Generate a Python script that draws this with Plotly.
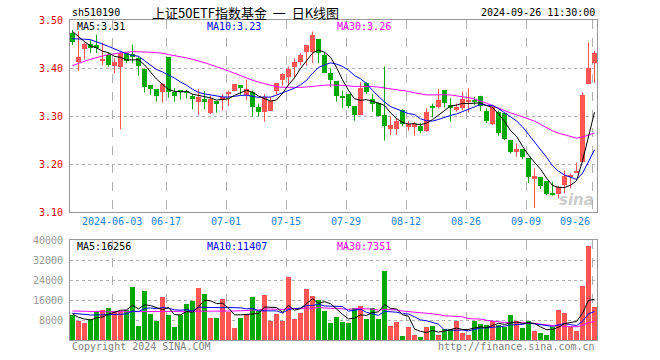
import plotly.graph_objects as go

# ---------------- data ----------------
tick_idx = [7, 16, 26, 36, 46, 56, 66, 76, 87]
tick_labels = ["2024-06-03", "06-17", "07-01", "07-15", "07-29", "08-12", "08-26", "09-09", "09-26"]

opens = [3.472, 3.413, 3.440, 3.451, 3.447, 3.415, 3.428, 3.404, 3.403, 3.431,
         3.429, 3.420, 3.397, 3.365, 3.356, 3.351, 3.422, 3.351, 3.353, 3.352,
         3.342, 3.330, 3.335, 3.307, 3.331, 3.333, 3.347, 3.353, 3.364, 3.344,
         3.351, 3.318, 3.309, 3.311, 3.353, 3.375, 3.382, 3.403, 3.413, 3.433,
         3.433, 3.460, 3.428, 3.390, 3.373, 3.342, 3.346, 3.321, 3.302, 3.368,
         3.335, 3.328, 3.302, 3.272, 3.273, 3.313, 3.279, 3.278, 3.279, 3.269,
         3.321, 3.319, 3.354, 3.323, 3.312, 3.316, 3.331, 3.333, 3.342, 3.311,
         3.283, 3.309, 3.306, 3.249, 3.226, 3.231, 3.213, 3.168, 3.172, 3.165,
         3.138, 3.137, 3.156, 3.174, 3.182, 3.205, 3.367, 3.411]
highs = [3.479, 3.476, 3.453, 3.458, 3.469, 3.453, 3.433, 3.420, 3.433, 3.432,
         3.448, 3.424, 3.399, 3.365, 3.356, 3.369, 3.422, 3.358, 3.354, 3.354,
         3.346, 3.356, 3.352, 3.342, 3.331, 3.346, 3.353, 3.366, 3.365, 3.376,
         3.353, 3.326, 3.346, 3.340, 3.368, 3.389, 3.403, 3.420, 3.431, 3.447,
         3.476, 3.460, 3.433, 3.398, 3.373, 3.353, 3.346, 3.321, 3.370, 3.370,
         3.346, 3.328, 3.403, 3.299, 3.295, 3.314, 3.290, 3.288, 3.285, 3.316,
         3.326, 3.356, 3.354, 3.337, 3.326, 3.351, 3.358, 3.340, 3.342, 3.316,
         3.323, 3.311, 3.306, 3.249, 3.243, 3.231, 3.213, 3.191, 3.172, 3.165,
         3.163, 3.154, 3.187, 3.180, 3.203, 3.349, 3.453, 3.436]
lows = [3.448, 3.394, 3.418, 3.431, 3.431, 3.406, 3.403, 3.389, 3.272, 3.410,
        3.410, 3.384, 3.349, 3.344, 3.330, 3.328, 3.338, 3.330, 3.335, 3.337,
        3.314, 3.302, 3.314, 3.304, 3.307, 3.311, 3.321, 3.353, 3.344, 3.333,
        3.299, 3.299, 3.288, 3.311, 3.344, 3.363, 3.363, 3.381, 3.406, 3.405,
        3.410, 3.410, 3.389, 3.361, 3.330, 3.317, 3.316, 3.290, 3.302, 3.346,
        3.309, 3.299, 3.249, 3.260, 3.260, 3.279, 3.269, 3.259, 3.264, 3.267,
        3.297, 3.316, 3.318, 3.288, 3.309, 3.312, 3.307, 3.323, 3.310, 3.285,
        3.281, 3.258, 3.250, 3.222, 3.215, 3.210, 3.160, 3.109, 3.148, 3.135,
        3.134, 3.128, 3.139, 3.149, 3.181, 3.203, 3.366, 3.369]
closes = [3.455, 3.422, 3.451, 3.441, 3.442, 3.419, 3.406, 3.413, 3.431, 3.415,
          3.422, 3.404, 3.361, 3.356, 3.342, 3.366, 3.351, 3.342, 3.350, 3.349,
          3.335, 3.339, 3.331, 3.335, 3.326, 3.339, 3.349, 3.366, 3.358, 3.356,
          3.319, 3.309, 3.340, 3.331, 3.368, 3.388, 3.398, 3.413, 3.428, 3.447,
          3.469, 3.431, 3.389, 3.376, 3.342, 3.339, 3.321, 3.302, 3.359, 3.349,
          3.324, 3.300, 3.279, 3.281, 3.290, 3.283, 3.283, 3.283, 3.269, 3.309,
          3.318, 3.333, 3.328, 3.316, 3.319, 3.336, 3.331, 3.331, 3.320, 3.290,
          3.318, 3.264, 3.252, 3.224, 3.231, 3.214, 3.172, 3.176, 3.154, 3.138,
          3.136, 3.153, 3.174, 3.178, 3.184, 3.344, 3.401, 3.432]
volumes = [10000, 7733, 6933, 8267, 11333, 12000, 12933, 11600, 11600, 12000,
           21333, 5600, 19600, 10400, 7733, 17200, 10000, 5333, 10000, 14400,
           15733, 20933, 18400, 8933, 8933, 16400, 11067, 4933, 8933, 10267,
           17200, 11600, 18000, 7733, 10400, 7733, 25333, 8400, 10933, 20400,
           17600, 16000, 11733, 6933, 9333, 7333, 6933, 12933, 13600, 8400,
           12933, 8400, 27733, 5600, 7333, 1600, 5333, 2000, 1060, 5060,
           5490, 2130, 4400, 4400, 7460, 2660, 2130, 7460, 6400, 6000,
           7460, 6130, 5060, 9850, 7460, 4660, 7460, 3730, 2850, 1920,
           5250, 11920, 10850, 5300, 3700, 21560, 37700, 13020]

# moving-average values before enough history is visible
ma5_head = [3.476, 3.465, 3.455, 3.446]
ma10_head = [3.461, 3.461, 3.460, 3.459, 3.455, 3.450, 3.445, 3.440, 3.436]
ma30_head = [3.405, 3.410, 3.414, 3.418, 3.422, 3.425, 3.428, 3.430, 3.432, 3.433,
             3.434, 3.434, 3.434, 3.433, 3.432, 3.431, 3.428, 3.426, 3.424, 3.421,
             3.418, 3.415, 3.411, 3.407, 3.403, 3.399, 3.394, 3.389, 3.384]
vma5_head = [10400, 9067, 8400, 8000]
vma10_head = [10700, 10400, 10200, 10000, 10000, 10000, 10000, 10100, 10300]
vma30_head = [11600, 11500, 11400, 11300, 11300, 11300, 11300, 11300, 11300, 11300,
              11300, 11300, 11300, 11300, 11300, 11300, 11300, 11300, 11400, 11400,
              11500, 11500, 11600, 11600, 11600, 11600, 11600, 11600, 11700]

# ---------------- helpers ----------------
N = len(closes)
idx = list(range(N))


def rolling(vals, n, head):
    out = list(head)
    for i in range(n - 1, len(vals)):
        out.append(sum(vals[i - n + 1:i + 1]) / n)
    return out


ma5 = rolling(closes, 5, ma5_head)
ma10 = rolling(closes, 10, ma10_head)
ma30 = rolling(closes, 30, ma30_head)
vma5 = rolling(volumes, 5, vma5_head)
vma10 = rolling(volumes, 10, vma10_head)
vma30 = rolling(volumes, 30, vma30_head)

RED = "#ff5555"
GREEN = "#00a800"
up = [c >= o for o, c in zip(opens, closes)]
colors = [RED if u else GREEN for u in up]

L, R, T, B = 70, 63, 20, 20
W, H = 660, 360
PW, PH = W - L - R, H - T - B
px_per = 6.0
x0 = -2.5 / px_per
x1 = x0 + PW / px_per


def pxx(px):
    return (px - L) / PW


def pyy(py):
    return (H - B - py) / PH


fig = go.Figure()

# candle bodies
min_h = 0.0022
bases = [min(o, c) for o, c in zip(opens, closes)]
heights = [max(abs(c - o), min_h) for o, c in zip(opens, closes)]
fig.add_trace(go.Bar(x=idx, y=heights, base=bases, width=0.83,
                     marker=dict(color=colors, line=dict(width=0)),
                     xaxis="x", yaxis="y", hoverinfo="skip"))

# wicks
for col, flag in ((RED, True), (GREEN, False)):
    wx, wy = [], []
    for i in idx:
        if up[i] == flag:
            wx += [i, i, None]
            wy += [lows[i], highs[i], None]
    fig.add_trace(go.Scatter(x=wx, y=wy, mode="lines", line=dict(color=col, width=1),
                             xaxis="x", yaxis="y", hoverinfo="skip"))

# price MAs
for vals, col in ((ma30, "#ff00ff"), (ma10, "#0000ff"), (ma5, "#000000")):
    fig.add_trace(go.Scatter(x=idx, y=vals, mode="lines", line=dict(color=col, width=1),
                             xaxis="x", yaxis="y", hoverinfo="skip"))

# volume bars
fig.add_trace(go.Bar(x=idx, y=volumes, width=0.83,
                     marker=dict(color=colors, line=dict(width=0)),
                     xaxis="x2", yaxis="y2", hoverinfo="skip"))
for vals, col in ((vma30, "#ff00ff"), (vma10, "#0000ff"), (vma5, "#000000")):
    fig.add_trace(go.Scatter(x=idx, y=vals, mode="lines", line=dict(color=col, width=1),
                             xaxis="x2", yaxis="y2", hoverinfo="skip"))

MONO = "DejaVu Sans Mono"
grid_x = [i - 0.37 for i in tick_idx]
axis_common = dict(showline=True, mirror=True, linecolor="#999999", linewidth=1,
                   zeroline=False, ticks="", automargin=False)

price_ticks = [3.10, 3.20, 3.30, 3.40, 3.50]
vol_ticks = [8000, 16000, 24000, 32000, 40000]

fig.update_layout(
    width=W, height=H,
    margin=dict(l=L, r=R, t=T, b=B, autoexpand=False),
    paper_bgcolor="white", plot_bgcolor="white",
    showlegend=False, barmode="overlay", bargap=0,
    xaxis=dict(domain=[0, 1], range=[x0, x1], anchor="y", tickvals=grid_x,
               showticklabels=False, showgrid=True, gridcolor="#b0b0b0",
               griddash="dash", gridwidth=1, **axis_common),
    yaxis=dict(domain=[pyy(212), 1], range=[3.10, 3.50], tickvals=price_ticks,
               ticktext=["%.2f" % v for v in price_ticks],
               tickfont=dict(family=MONO, size=10, color="#e00000"),
               showgrid=True, gridcolor="#b0b0b0", griddash="dot", gridwidth=1,
               ticklabelstandoff=4, **axis_common),
    xaxis2=dict(domain=[0, 1], range=[x0, x1], anchor="y2", tickvals=grid_x,
                showticklabels=False, showgrid=True, gridcolor="#b0b0b0",
                griddash="dash", gridwidth=1, **axis_common),
    yaxis2=dict(domain=[0, pyy(240)], range=[0, 40000], tickvals=vol_ticks,
                ticktext=[str(v) for v in vol_ticks],
                tickfont=dict(family=MONO, size=10, color="#999999"),
                showgrid=True, gridcolor="#b0b0b0", griddash="dot", gridwidth=1,
                ticklabelstandoff=4, **axis_common),
)

ann = []


def text(px, py, s, color="#000000", size=10, anchor="left", family=MONO):
    ann.append(dict(x=pxx(px), y=pyy(py), xref="paper", yref="paper", text=s,
                    showarrow=False, xanchor=anchor, yanchor="middle",
                    font=dict(family=family, size=size, color=color)))


text(70, 13, "sh510190", size=10)
text(150, 13, "上证50ETF指数基金  一  日K线图", size=13, family="Noto Sans CJK SC")
text(597, 13, "2024-09-26 11:30:00", anchor="right")
text(75, 26, "MA5:%.2f" % ma5[-1])
text(205, 26, "MA10:%.2f" % ma10[-1], color="#0000ff")
text(335, 26, "MA30:%.2f" % ma30[-1], color="#ff00ff")
text(75, 246, "MA5:%d" % round(vma5[-1]))
text(205, 246, "MA10:%d" % round(vma10[-1]), color="#0000ff")
text(335, 246, "MA30:%d" % round(vma30[-1]), color="#ff00ff")
text(70, 346, "Copyright 2024 SINA.COM", color="#808080")
text(597, 346, "http://finance.sina.com.cn", color="#808080", anchor="right")

# date labels under main panel
for k, (i, lab) in enumerate(zip(tick_idx, tick_labels)):
    xpx = L + (i - 0.37 - x0) * px_per
    if k == len(tick_idx) - 1:
        text(xpx, 221, lab, color="#1a7fd8", anchor="right")
    else:
        text(xpx, 221, lab, color="#1a7fd8", anchor="center")

# sina watermark
ann.append(dict(x=pxx(596), y=pyy(200), xref="paper", yref="paper", text="<b><i>sina</i></b>",
                showarrow=False, xanchor="right", yanchor="middle",
                font=dict(family="DejaVu Sans", size=15, color="rgba(160,160,160,0.55)")))

fig.update_layout(annotations=ann)
fig.write_html("out.html", config={"displayModeBar": False},
               post_script="document.body.style.margin='0';document.body.style.padding='0';")
